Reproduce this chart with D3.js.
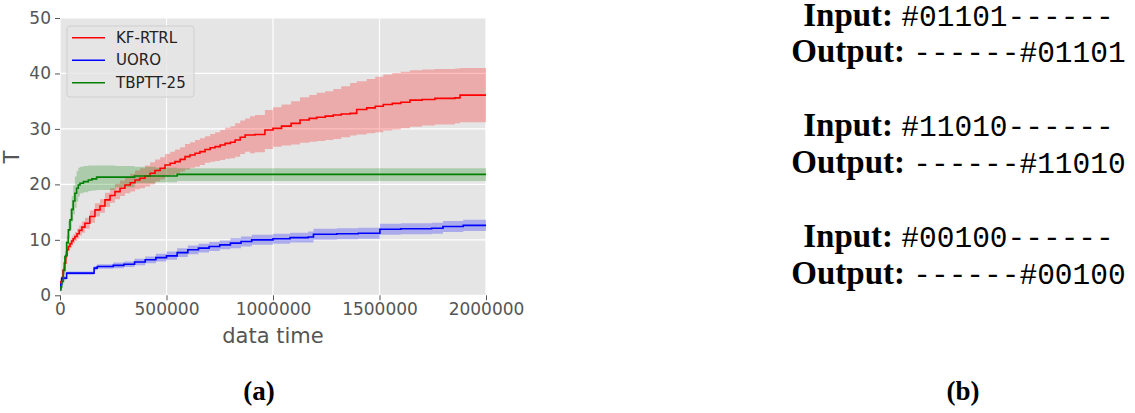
<!DOCTYPE html>
<html>
<head>
<meta charset="utf-8">
<script src="https://cdn.jsdelivr.net/npm/d3@7"></script>
<style>
  body { margin: 0; background: #fff; }
  svg { display: block; }
</style>
</head>
<body>
<svg id="chart" width="1135" height="413" viewBox="0 0 1135 413"></svg>
<script>
// rows: [data time, mean T, lower, upper]
const kfRtrl = [
  [0, 2.0, 1.7, 2.3], [4000, 2.5, 2.1, 2.9], [8000, 3.0, 2.5, 3.5], [14000, 4.5, 3.9, 5.1],
  [20000, 5.8, 5.1, 6.5], [27000, 7.2, 6.5, 7.9], [33000, 8.2, 7.5, 8.9], [39000, 8.8, 8.0, 9.6],
  [47000, 9.3, 8.5, 10.1], [55000, 9.8, 9.0, 10.6], [62000, 10.2, 9.4, 11.0], [70000, 10.6, 9.8, 11.4],
  [80000, 11.1, 10.2, 12.0], [90000, 11.7, 10.8, 12.6], [103000, 12.3, 11.3, 13.3], [117000, 13.0, 12.0, 14.0],
  [140000, 14.2, 13.1, 15.3], [164000, 15.4, 14.2, 16.6], [188000, 16.1, 14.9, 17.3], [211000, 17.2, 15.9, 18.5],
  [235000, 18.0, 16.7, 19.3], [258000, 18.7, 17.3, 20.1], [282000, 19.3, 17.9, 20.7], [305000, 19.9, 18.4, 21.4],
  [330000, 20.3, 18.7, 21.9], [352000, 20.8, 19.1, 22.5], [375000, 21.1, 19.3, 22.9], [399000, 21.5, 19.6, 23.4],
  [423000, 22.0, 20.0, 24.0], [446000, 22.5, 20.5, 24.5], [470000, 22.9, 20.9, 24.9], [493000, 23.5, 21.5, 25.5],
  [517000, 23.8, 21.7, 25.9], [540000, 24.1, 21.9, 26.3], [564000, 24.5, 22.3, 26.7], [587000, 25.0, 22.7, 27.3],
  [610000, 25.3, 23.0, 27.6], [634000, 25.6, 23.2, 28.0], [657000, 25.9, 23.5, 28.3], [681000, 26.3, 23.9, 28.7],
  [705000, 26.6, 24.1, 29.1], [728000, 26.8, 24.2, 29.4], [752000, 27.1, 24.4, 29.8], [775000, 27.4, 24.6, 30.2],
  [800000, 27.6, 24.7, 30.5], [822000, 28.0, 25.0, 31.0], [846000, 28.5, 25.5, 31.5], [869000, 28.9, 25.9, 31.9],
  [892000, 28.9, 25.6, 32.3], [915000, 29.0, 25.8, 32.5], [962000, 29.8, 26.4, 33.4], [1000000, 30.1, 26.8, 33.9],
  [1040000, 30.5, 27.0, 34.4], [1085000, 31.0, 27.2, 35.0], [1127000, 31.6, 27.5, 35.7], [1170000, 31.9, 27.7, 36.1],
  [1205000, 32.1, 27.8, 36.5], [1245000, 32.3, 28.0, 36.8], [1283000, 32.5, 28.2, 37.2], [1320000, 32.7, 28.5, 37.7],
  [1362000, 32.8, 28.8, 38.3], [1393000, 33.5, 29.0, 38.6], [1440000, 33.8, 29.2, 39.0], [1480000, 34.1, 29.4, 39.4],
  [1518000, 34.4, 29.7, 39.8], [1560000, 34.6, 29.9, 40.1], [1600000, 34.8, 30.1, 40.3], [1643000, 35.2, 30.4, 40.6],
  [1700000, 35.3, 30.6, 40.7], [1760000, 35.5, 30.8, 40.8], [1854000, 35.6, 31.0, 40.9], [1878000, 36.1, 31.2, 41.0],
  [2000000, 36.1, 31.2, 41.0]
];

const uoro = [
  [0, 1.0, 0.8, 1.2], [3000, 2.0, 1.7, 2.3], [8000, 3.1, 2.8, 3.4], [31000, 4.0, 3.7, 4.3],
  [160000, 4.9, 4.5, 5.3], [175000, 5.2, 4.8, 5.6], [250000, 5.4, 4.9, 5.9], [300000, 5.6, 5.1, 6.1],
  [350000, 6.0, 5.4, 6.6], [400000, 6.4, 5.8, 7.0], [450000, 6.8, 6.1, 7.5], [500000, 7.1, 6.4, 7.9],
  [550000, 7.7, 6.9, 8.5], [600000, 8.2, 7.4, 9.0], [650000, 8.5, 7.7, 9.3], [700000, 8.8, 8.0, 9.6],
  [750000, 9.1, 8.3, 9.9], [800000, 9.4, 8.5, 10.3], [850000, 9.7, 8.8, 10.6], [900000, 10.0, 9.1, 10.9],
  [1000000, 10.2, 9.3, 11.1], [1080000, 10.4, 9.5, 11.3], [1165000, 10.5, 9.5, 11.5], [1190000, 11.0, 10.0, 12.0],
  [1300000, 11.1, 10.1, 12.1], [1400000, 11.2, 10.2, 12.2], [1502000, 11.9, 10.9, 12.9], [1600000, 12.0, 11.0, 13.0],
  [1745000, 12.1, 11.1, 13.1], [1798000, 12.4, 11.4, 13.4], [1893000, 12.6, 11.6, 13.6], [2000000, 12.6, 11.6, 13.6]
];

const tbptt25 = [
  [0, 1.0, 0.7, 1.3], [4000, 1.5, 1.1, 1.9], [8000, 2.5, 2.0, 3.0], [16000, 4.5, 3.8, 5.2],
  [23000, 7.0, 6.0, 8.0], [31000, 9.5, 8.2, 10.8], [39000, 11.8, 10.2, 13.4], [47000, 13.6, 11.8, 15.6],
  [55000, 15.5, 13.3, 17.9], [62000, 17.0, 14.6, 19.8], [70000, 18.4, 15.8, 21.4], [78000, 19.3, 16.9, 22.4],
  [86000, 19.9, 17.8, 23.0], [94000, 20.2, 18.4, 23.2], [110000, 20.5, 18.6, 23.3], [133000, 20.8, 18.8, 23.4],
  [150000, 21.0, 18.9, 23.4], [172000, 21.3, 19.0, 23.4], [260000, 21.3, 19.5, 23.3], [350000, 21.5, 20.2, 23.2],
  [450000, 21.5, 20.4, 23.0], [550000, 21.8, 20.6, 22.9], [2000000, 21.8, 20.6, 22.9]
];

const seriesNames = ["KF-RTRL", "UORO", "TBPTT-25"];
const seriesColors = ["#ff0000", "#0000ff", "#008000"];
const xTicks = [0, 500000, 1000000, 1500000, 2000000];
const yTicks = [0, 10, 20, 30, 40, 50];

const taskLines = [
  ["Input:", "#01101------"], ["Output:", "------#01101"],
  ["Input:", "#11010------"], ["Output:", "------#11010"],
  ["Input:", "#00100------"], ["Output:", "------#00100"]
];
const captions = ["(a)", "(b)"];

let svg = d3.select("#chart");
svg.append("rect").attr("width", 1135).attr("height", 413).attr("fill", "#fff");

let x = d3.scaleLinear().domain([0, 2000000]).range([60, 486]);
let y = d3.scaleLinear().domain([0, 50]).range([295.3, 18]);

// plot background
svg.append("rect")
    .attr("x", x(0)).attr("y", y(50))
    .attr("width", x(2000000) - x(0)).attr("height", y(0) - y(50))
    .attr("fill", "#e5e5e5");

svg.append("clipPath").attr("id", "plotClip")
    .append("rect")
    .attr("x", x(0)).attr("y", y(50))
    .attr("width", x(2000000) - x(0)).attr("height", y(0) - y(50));

// grid
let grid = svg.append("g");
grid.selectAll(".gx").data(xTicks).enter().append("line")
    .attr("x1", d => x(d)).attr("x2", d => x(d))
    .attr("y1", y(0)).attr("y2", y(50))
    .attr("stroke", "#fff").attr("stroke-width", 1.2);
grid.selectAll(".gy").data(yTicks).enter().append("line")
    .attr("x1", x(0)).attr("x2", x(2000000))
    .attr("y1", d => y(d)).attr("y2", d => y(d))
    .attr("stroke", "#fff").attr("stroke-width", 1.2);

// axes
let xAxis = svg.append("g")
    .attr("transform", `translate(0,${y(0)})`)
    .call(d3.axisBottom(x).tickValues(xTicks).tickFormat(d3.format("d")).tickSize(5).tickPadding(3));
let yAxis = svg.append("g")
    .attr("transform", `translate(${x(0)},0)`)
    .call(d3.axisLeft(y).tickValues(yTicks).tickSize(5).tickPadding(4));
[xAxis, yAxis].forEach(function(a){
    a.select(".domain").remove();
    a.selectAll(".tick line").attr("stroke", "#555");
    a.selectAll(".tick text")
        .attr("fill", "#555")
        .style("font-family", "DejaVu Sans")
        .style("font-size", "17px");
});

svg.append("text")
    .attr("x", 273).attr("y", 343)
    .attr("text-anchor", "middle")
    .attr("fill", "#555")
    .style("font-family", "DejaVu Sans").style("font-size", "21px")
    .text("data time");
svg.append("text")
    .attr("transform", "translate(19,157) rotate(-90)")
    .attr("text-anchor", "middle")
    .attr("fill", "#555")
    .style("font-family", "DejaVu Sans").style("font-size", "21px")
    .text("T");

// bands and lines
let plot = svg.append("g").attr("clip-path", "url(#plotClip)");
let allSeries = [kfRtrl, uoro, tbptt25];

let area = d3.area()
    .curve(d3.curveStepAfter)
    .x(d => x(d[0]))
    .y0(d => y(d[2]))
    .y1(d => y(d[3]));
let line = d3.line()
    .curve(d3.curveStepAfter)
    .x(d => x(d[0]))
    .y(d => y(d[1]));

allSeries.forEach(function(s, i){
    plot.append("path")
        .datum(s)
        .attr("d", area)
        .attr("fill", seriesColors[i])
        .attr("fill-opacity", 0.25);
});
allSeries.forEach(function(s, i){
    plot.append("path")
        .datum(s)
        .attr("d", line)
        .attr("fill", "none")
        .attr("stroke", seriesColors[i])
        .attr("stroke-width", 1.6);
});

// legend
let legend = svg.append("g");
legend.append("rect")
    .attr("x", 67).attr("y", 26).attr("width", 127).attr("height", 71).attr("rx", 3)
    .attr("fill", "#e5e5e5").attr("fill-opacity", 0.8)
    .attr("stroke", "#cfcfcf").attr("stroke-width", 1);
let items = legend.selectAll(".item").data(seriesNames).enter().append("g")
    .attr("transform", (d, i) => `translate(0,${37.7 + i * 22.5})`);
items.append("line")
    .attr("x1", 72).attr("x2", 105)
    .attr("stroke", (d, i) => seriesColors[i]).attr("stroke-width", 1.6);
items.append("text")
    .attr("x", 116).attr("dy", "0.35em")
    .attr("fill", "#222")
    .style("font-family", "DejaVu Sans").style("font-size", "15px")
    .text(d => d);

// task examples (b)
let task = svg.append("g");
let baselines = [26, 62, 136, 173, 247, 284];
taskLines.forEach(function(row, i){
    let t = task.append("text")
        .attr("x", 958.5).attr("y", baselines[i])
        .attr("text-anchor", "middle")
        .style("white-space", "pre")
        .attr("fill", "#000");
    t.append("tspan")
        .style("font-family", "Liberation Serif").style("font-weight", "bold").style("font-size", "33px")
        .text(row[0] + " ");
    t.append("tspan")
        .style("font-family", "Liberation Mono").style("font-size", "29.5px")
        .text(row[1]);
});

// captions
svg.selectAll(".cap").data(captions).enter().append("text")
    .attr("x", (d, i) => i === 0 ? 259 : 963)
    .attr("y", 400)
    .attr("text-anchor", "middle")
    .style("font-family", "Liberation Serif").style("font-weight", "bold").style("font-size", "27px")
    .text(d => d);
</script>
</body>
</html>
